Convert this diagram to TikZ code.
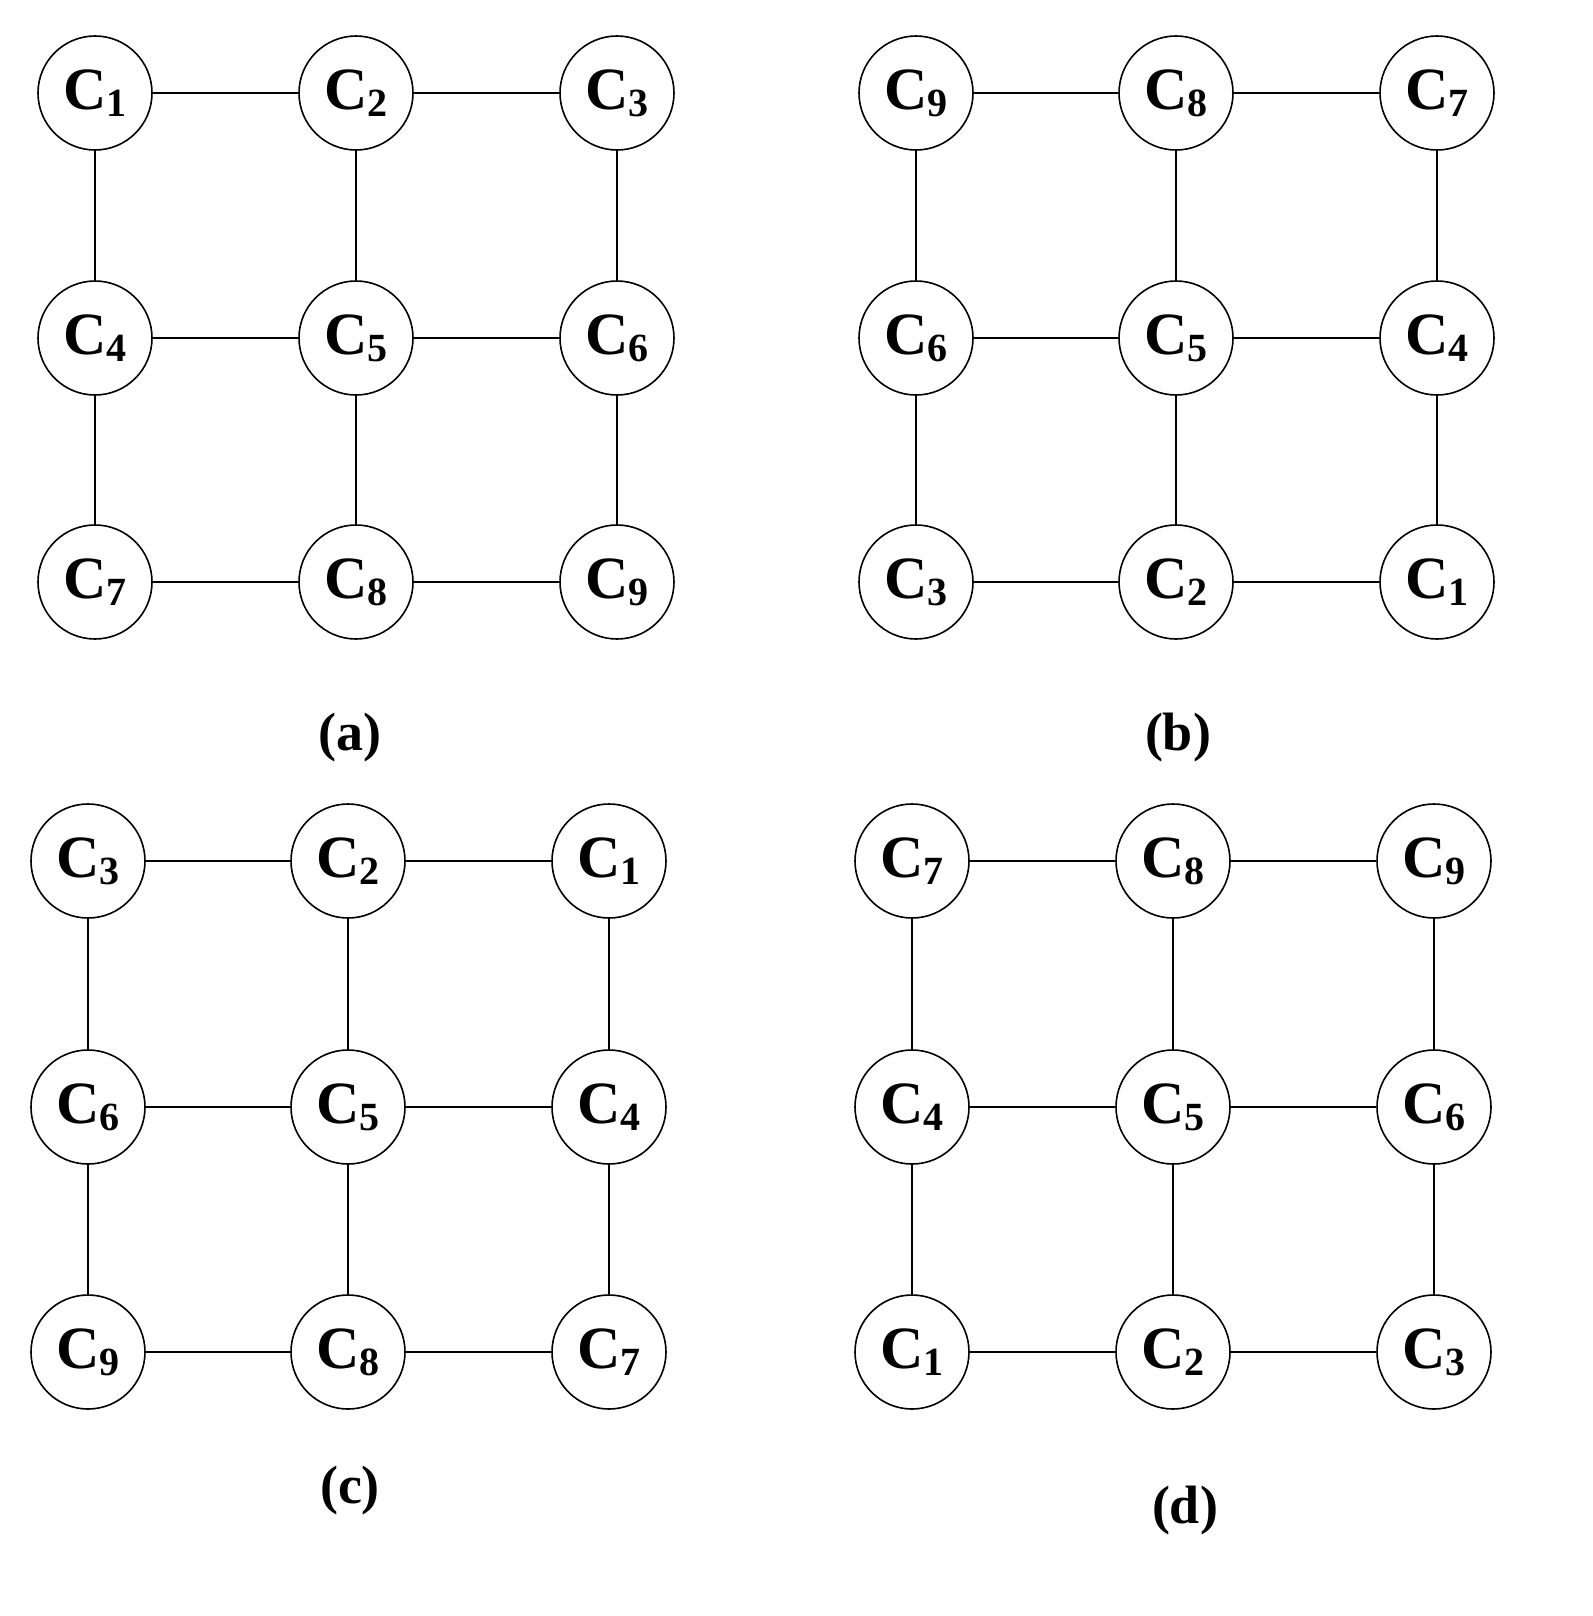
\documentclass[tikz,border=0pt]{standalone}
\usepackage{fontspec}
\setmainfont{Liberation Serif}
\begin{document}
\begin{tikzpicture}[x=0.5pt,y=-0.5pt,
  cn/.style={circle,draw,line width=0.8pt,minimum size=57pt,inner sep=0pt,font=\fontsize{30}{30}\bfseries},
  ed/.style={line width=0.8pt},
  captxt/.style={font=\fontsize{27}{27}\bfseries}]
\foreach \p/\xa/\xb/\xc/\ya/\yb/\yc/\labs in {
 a/95/356/617/93/338/582/{1,2,3,4,5,6,7,8,9},
 b/916/1176/1437/93/338/582/{9,8,7,6,5,4,3,2,1},
 c/88/348/609/861/1107/1352/{3,2,1,6,5,4,9,8,7},
 d/912/1173/1434/861/1107/1352/{7,8,9,4,5,6,1,2,3}}{
  \foreach \l [count=\i from 0] in \labs {
    \pgfmathtruncatemacro{\r}{div(\i,3)}
    \pgfmathtruncatemacro{\c}{mod(\i,3)}
    \pgfmathsetmacro{\X}{\c==0?\xa:(\c==1?\xb:\xc)}
    \pgfmathsetmacro{\Y}{\r==0?\ya:(\r==1?\yb:\yc)}
    \node[cn] (\p\r\c) at (\X,\Y) {C\raisebox{-0.25ex}{\fontsize{20}{20}\bfseries\l}};
  }
  \foreach \r in {0,1,2}{
    \draw[ed] (\p\r0) -- (\p\r1); \draw[ed] (\p\r1) -- (\p\r2);
    \draw[ed] (\p0\r) -- (\p1\r); \draw[ed] (\p1\r) -- (\p2\r);
  }
}
\node[captxt] (la) at (350,738) {(a)};
\node[captxt] (lb) at (1178,738) {(b)};
\node[captxt] (lc) at (350,1490) {(c)};
\node[captxt] (ld) at (1185,1510) {(d)};
\pgfresetboundingbox
\useasboundingbox (0,0) rectangle (1592,1616);
\end{tikzpicture}
\end{document}
